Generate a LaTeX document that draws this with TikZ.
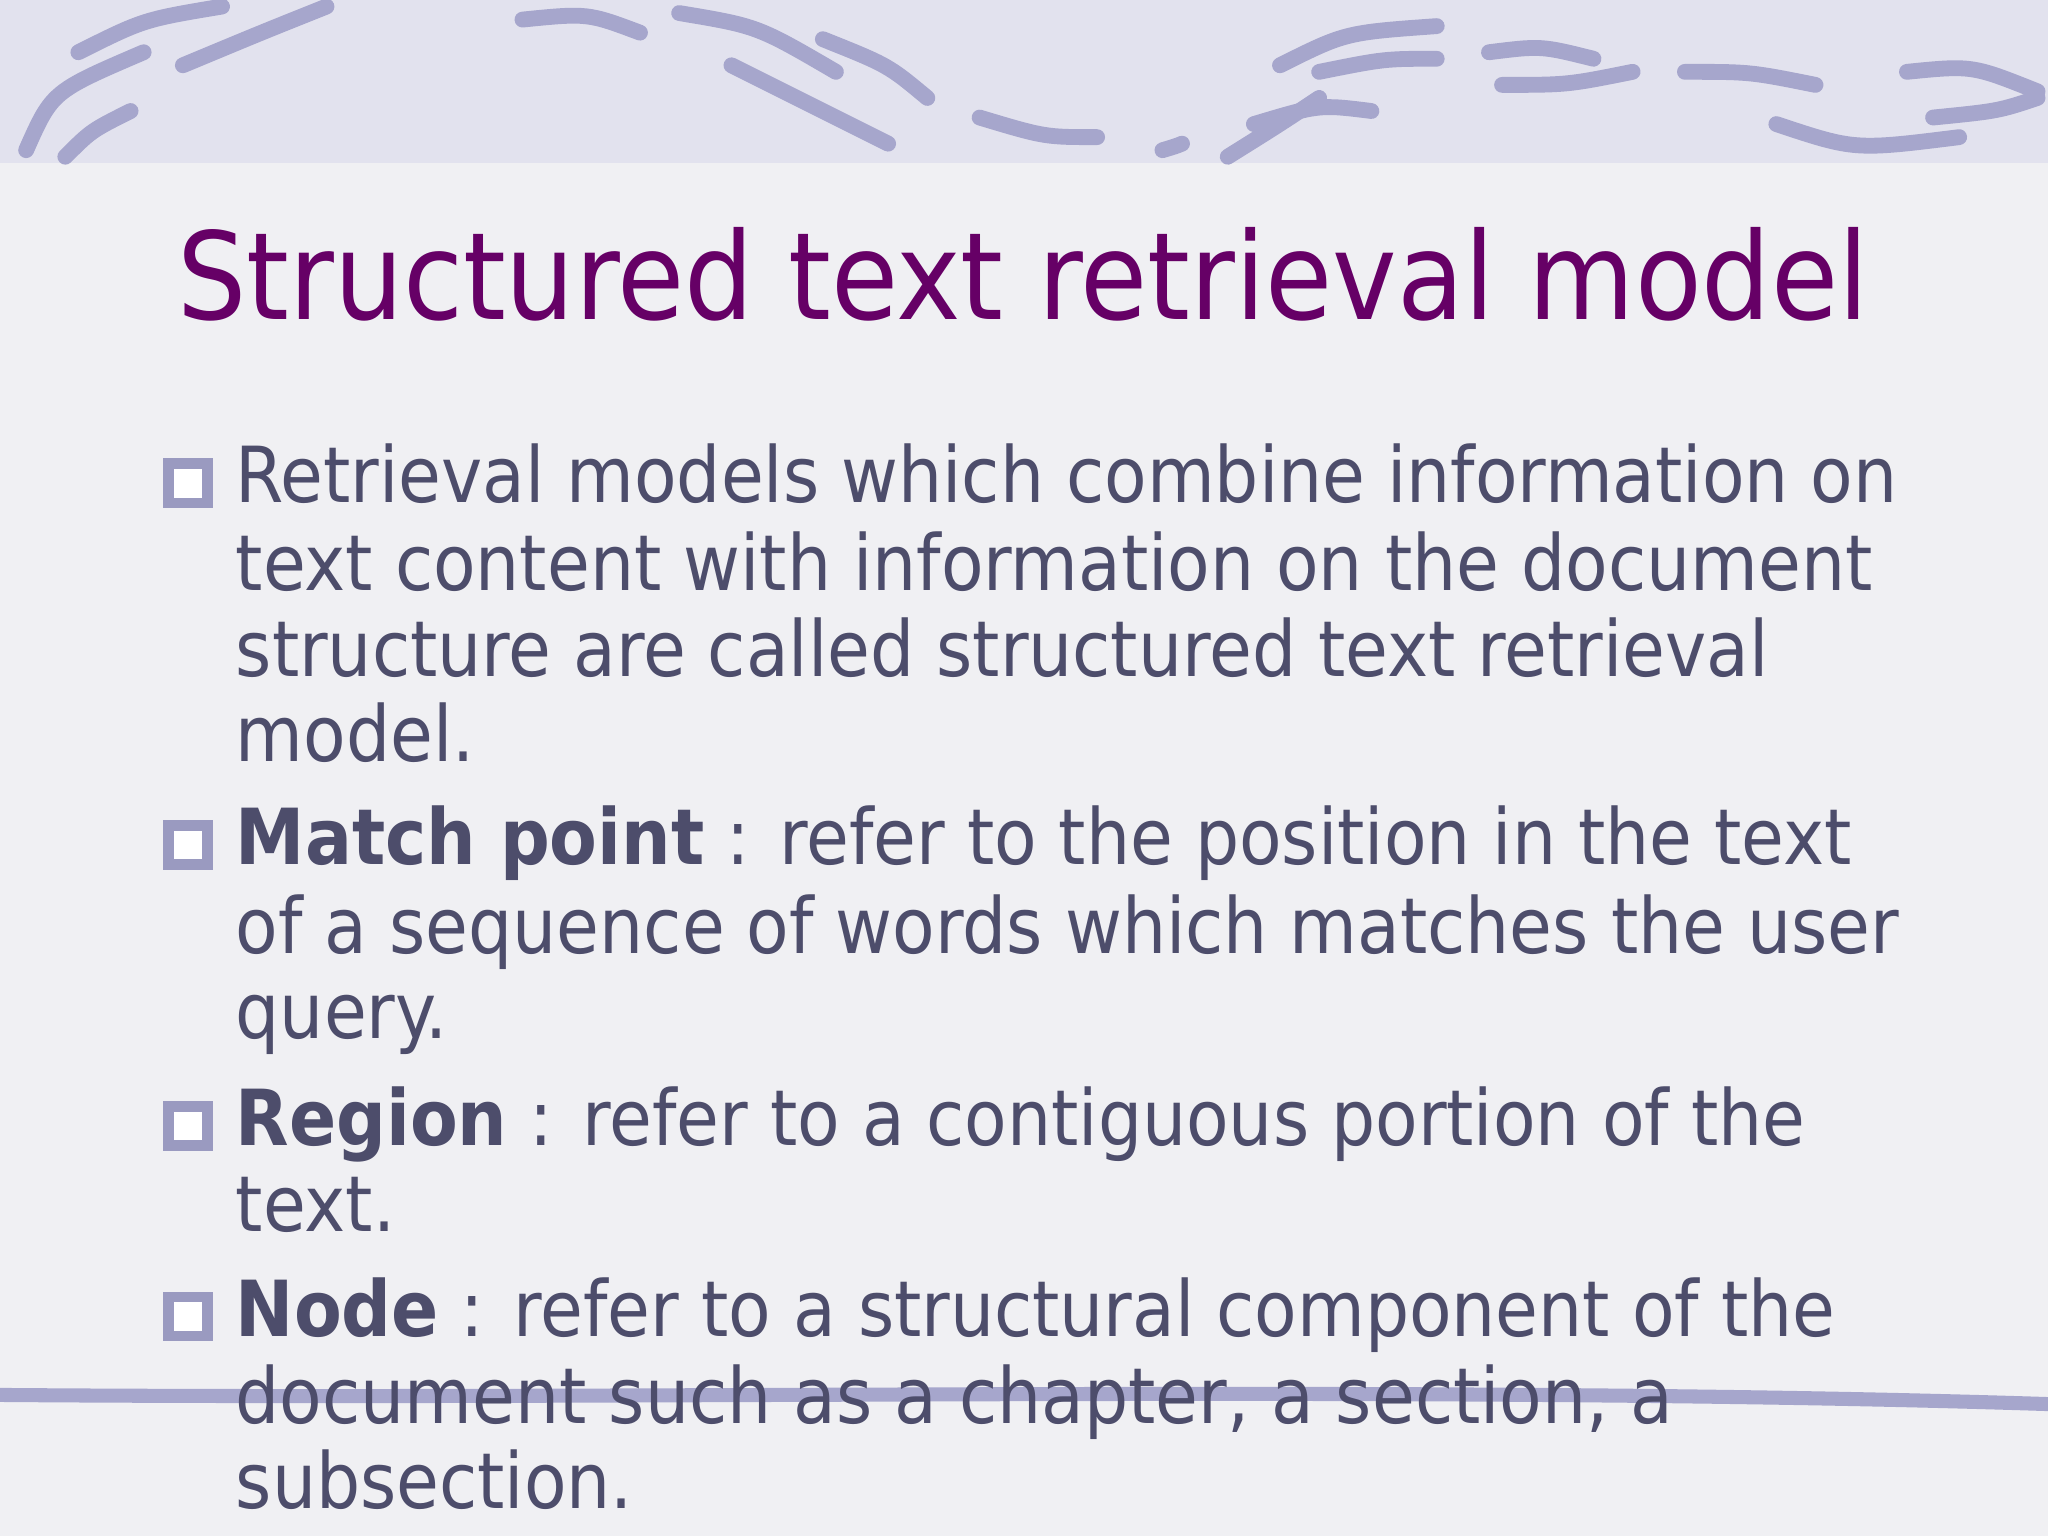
\documentclass[tikz,border=0pt]{standalone}
\usepackage{fontspec}
\setmainfont{DejaVu Sans}
\newfontfamily\cond{DejaVu Sans Condensed}
\definecolor{bg}{HTML}{F0F0F3}
\definecolor{band}{HTML}{E2E2EE}
\definecolor{stroke}{HTML}{A6A6CC}
\definecolor{ttl}{HTML}{660066}
\definecolor{body}{HTML}{4D4D6B}
\definecolor{bul}{HTML}{9A9AC0}
\tikzset{
 line/.style={anchor=base west,text=body,font=\cond\fontsize{22}{26}\selectfont,inner sep=0pt},
 bulbox/.style={draw=bul,line width=3pt,fill=white,minimum size=30*0.01306cm,inner sep=0pt},
 deco/.style={draw=stroke,line width=4.5pt,line cap=round},
}
\begin{document}
\begin{tikzpicture}[x=0.01306cm,y=-0.01306cm]
\fill[bg] (0,0) rectangle (1568,1176);
\useasboundingbox (0,0) rectangle (1568,1176);
\fill[band] (0,0) rectangle (1568,125);
\draw[deco] (20,115) .. controls (40,70) .. (110,40);
\draw[deco] (50,120) .. controls (70,100) .. (100,85);
\draw[deco] (60,40) .. controls (110,15) .. (170,5);
\draw[deco] (140,50) .. controls (200,25) .. (250,5);
\draw[deco] (400,15) .. controls (450,10) .. (490,25);
\draw[deco] (520,10) .. controls (580,20) .. (640,55);
\draw[deco] (560,50) .. controls (620,80) .. (680,110);
\draw[deco] (630,30) .. controls (680,50) .. (710,75);
\draw[deco] (750,90) .. controls (800,105) .. (840,105);
\draw[deco] (890,115) .. controls (900,112) .. (905,110);
\draw[deco] (940,120) .. controls (980,95) .. (1010,75);
\draw[deco] (960,95) .. controls (1010,80) .. (1050,85);
\draw[deco] (980,50) .. controls (1030,25) .. (1100,20);
\draw[deco] (1010,55) .. controls (1060,45) .. (1100,45);
\draw[deco] (1140,40) .. controls (1180,35) .. (1220,45);
\draw[deco] (1150,65) .. controls (1200,65) .. (1250,55);
\draw[deco] (1290,55) .. controls (1340,55) .. (1390,65);
\draw[deco] (1360,95) .. controls (1420,115) .. (1500,105);
\draw[deco] (1460,55) .. controls (1510,50) .. (1560,70);
\draw[deco] (1480,90) .. controls (1530,85) .. (1560,75);
\draw[draw=stroke,line width=4pt] (0,1068) .. controls (500,1072) and (1100,1060) .. (1568,1075);
\node[anchor=base,text=ttl,font=\cond\fontsize{34.5}{40}\selectfont,inner sep=0pt] (title) at (783,245) {Structured text retrieval model};
\node[bulbox] (b1) at (144,370) {};
\node[line] (l1) at (180,385) {Retrieval models which combine information on};
\node[line] (l2) at (180,452) {text content with information on the document};
\node[line] (l3) at (180,518) {structure are called structured text retrieval};
\node[line] (l4) at (180,583) {model.};
\node[bulbox] (b2) at (144,647) {};
\node[line] (l5) at (180,662) {\textbf{Match point} : refer to the position in the text};
\node[line] (l6) at (180,730) {of a sequence of words which matches the user};
\node[line] (l7) at (180,795) {query.};
\node[bulbox] (b3) at (144,862) {};
\node[line] (l8) at (180,877) {\textbf{Region} : refer to a contiguous portion of the};
\node[line] (l9) at (180,943) {text.};
\node[bulbox] (b4) at (144,1008) {};
\node[line] (l10) at (180,1023) {\textbf{Node} : refer to a structural component of the};
\node[line] (l11) at (180,1090) {document such as a chapter, a section, a};
\node[line] (l12) at (180,1155) {subsection.};
\end{tikzpicture}
\end{document}
